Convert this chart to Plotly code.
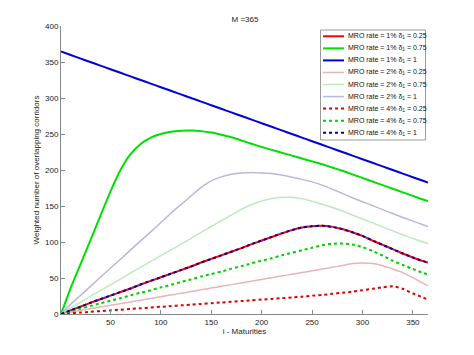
import plotly.graph_objects as go

maturities = [1, 10, 20, 30, 40, 50, 60, 70, 80, 90, 100, 110, 120, 130, 140, 150, 160, 170, 180,
              190, 200, 210, 220, 230, 240, 250, 260, 270, 280, 290, 300, 310, 320, 330, 340, 350, 360, 365]

mro1_d025 = [0, 5, 10, 15.5, 20.5, 25.5, 30.5, 35.5, 41, 46, 51, 56, 61, 66, 71.5, 76.5, 81.5, 86.5, 91.5,
             97, 102, 107, 112, 116.5, 120, 122, 122.5, 121, 118, 113.5, 108.5, 102, 96, 90, 84, 78.5, 73.5, 71.5]
mro1_d075 = [0, 34, 68, 102, 136, 170, 200, 222, 236, 245, 250, 253, 254.5, 255, 254, 252, 249, 245.5, 241,
             236.5, 232, 228, 224, 220, 216, 212, 208, 203.5, 199, 194, 189, 184, 179, 174, 169, 164, 159, 157]
mro1_d1 = [364.5, 360, 355, 350, 345, 340, 335, 330, 325, 320, 315, 310, 305, 300, 295, 290, 285, 280, 275,
           270, 265, 260, 255, 250, 245, 240, 235, 230, 225, 220, 215, 210, 205, 200, 195, 190, 185, 182.5]
mro2_d025 = [0, 2.4, 4.8, 7.2, 9.6, 12, 14.4, 16.8, 19.2, 21.6, 24, 26.4, 28.8, 31.2, 33.6, 36, 38.4, 40.8, 43.2,
             45.6, 48, 50.4, 52.8, 55.2, 57.6, 60, 62.4, 64.8, 67.5, 70, 71, 70, 67, 62.5, 57.5, 50.5, 43, 39]
mro2_d075 = [0, 8, 16, 24.5, 32.5, 40.5, 48.5, 57, 65, 73, 81, 89, 97, 105, 113.5, 121.5, 129.5, 137.5, 145.5,
             152, 157, 160.5, 162, 162, 160, 156.5, 152.5, 148, 143, 137.5, 132, 126.5, 121, 115.5, 110, 105, 100, 98]
mro2_d1 = [0, 12.7, 25.4, 38, 51, 63.5, 76, 89, 101.5, 114, 127, 140, 152, 164, 176, 185, 190.5, 194, 196,
           196.5, 196, 195, 193, 190, 187, 183.5, 179, 173.5, 167.5, 161.5, 156, 150.5, 145, 139.5, 134, 129, 124, 121.5]
mro4_d025 = [0, 1, 2, 3, 4, 5, 6, 7, 8, 9, 10, 11, 12, 13, 14, 15, 16, 17, 18,
             19, 20, 21, 22, 23, 24, 25.5, 26.5, 28, 29.5, 31, 33, 35, 37, 38.5, 35, 28.5, 23, 20]
mro4_d075 = [0, 3.7, 7.4, 11, 15, 18.5, 22, 26, 29.5, 33, 37, 40.5, 44.5, 48, 52, 55.5, 59, 63, 66.5,
             70.5, 74, 77.5, 81.5, 85, 88.5, 92, 95.5, 97.5, 98, 96.5, 93, 87.5, 81, 74, 68, 62.5, 57, 55]
mro4_d1 = list(mro1_d025)

series_names = [
    "MRO rate = 1% δ<sub>1</sub> = 0.25",
    "MRO rate = 1% δ<sub>1</sub> = 0.75",
    "MRO rate = 1% δ<sub>1</sub> = 1",
    "MRO rate = 2% δ<sub>1</sub> = 0.25",
    "MRO rate = 2% δ<sub>1</sub> = 0.75",
    "MRO rate = 2% δ<sub>1</sub> = 1",
    "MRO rate = 4% δ<sub>1</sub> = 0.25",
    "MRO rate = 4% δ<sub>1</sub> = 0.75",
    "MRO rate = 4% δ<sub>1</sub> = 1",
]
series_values = [mro1_d025, mro1_d075, mro1_d1, mro2_d025, mro2_d075, mro2_d1, mro4_d025, mro4_d075, mro4_d1]
styles = [
    ("#FF0000", 2, "solid"),
    ("#00E000", 2, "solid"),
    ("#0000DD", 2, "solid"),
    ("#E8B4B8", 1.5, "solid"),
    ("#BCEABC", 1.5, "solid"),
    ("#B8B8DE", 1.5, "solid"),
    ("#E00000", 2, "dot"),
    ("#00D000", 2, "dot"),
    ("#0000AA", 2, "dot"),
]

fig = go.Figure()
for name, vals, (col, w, dash) in zip(series_names, series_values, styles):
    fig.add_trace(go.Scatter(x=maturities, y=vals, mode="lines", name=name, showlegend=False,
                             line=dict(color=col, width=w, dash=dash, shape="spline", smoothing=0.5)))

# compact MATLAB-style legend box (inside the axes, top-right)
ML, MR, MT, MB = 61, 46, 26, 41
W, H = 474, 355
PW, PH = W - ML - MR, H - MT - MB
def px_x(p):
    return (p - ML) / PW
def px_y(p):
    return (H - MB - p) / PH

shapes = [dict(type="rect", xref="paper", yref="paper",
               x0=px_x(320.5), x1=px_x(425.5), y0=px_y(140), y1=px_y(30),
               line=dict(color="#9a9a9a", width=1), fillcolor="white", layer="above")]
annotations = []
for k, (name, (col, w, dash)) in enumerate(zip(series_names, styles)):
    yk = 36.3 + k * 12.05
    shapes.append(dict(type="line", xref="paper", yref="paper",
                       x0=px_x(323), x1=px_x(344), y0=px_y(yk), y1=px_y(yk),
                       line=dict(color=col, width=w, dash=dash), layer="above"))
    annotations.append(dict(xref="paper", yref="paper", x=px_x(345.5), y=px_y(yk),
                            xanchor="left", yanchor="middle", showarrow=False,
                            text=name, font=dict(size=7, color="#111")))

font_family = "Liberation Sans, Arial, sans-serif"
fig.update_layout(
    width=W, height=H,
    margin=dict(l=ML, r=MR, t=MT, b=MB, autoexpand=False),
    paper_bgcolor="white", plot_bgcolor="white",
    font=dict(family=font_family, size=8, color="#222"),
    title=dict(text="M =365", x=245 / W, xanchor="center", y=1 - 19 / H, yanchor="middle",
               font=dict(size=8, color="#222")),
    showlegend=False,
    shapes=shapes,
    annotations=annotations,
    xaxis=dict(range=[1, 365], tickvals=[50, 100, 150, 200, 250, 300, 350], showgrid=False,
               zeroline=False, showline=True, linecolor="#888", linewidth=1, automargin=False,
               ticks="inside", ticklen=4, tickcolor="#888",
               title=dict(text="i - Maturities", standoff=2, font=dict(size=8))),
    yaxis=dict(range=[0, 400], tickvals=[0, 50, 100, 150, 200, 250, 300, 350, 400], showgrid=False,
               zeroline=False, showline=True, linecolor="#888", linewidth=1, automargin=False,
               ticks="inside", ticklen=4, tickcolor="#888",
               title=dict(text="Weighted number of overlapping corridors", standoff=4, font=dict(size=8))),
)

fig.write_html("out.html", config={"displayModeBar": False},
               post_script="document.body.style.margin='0px';document.body.style.overflow='hidden';")
